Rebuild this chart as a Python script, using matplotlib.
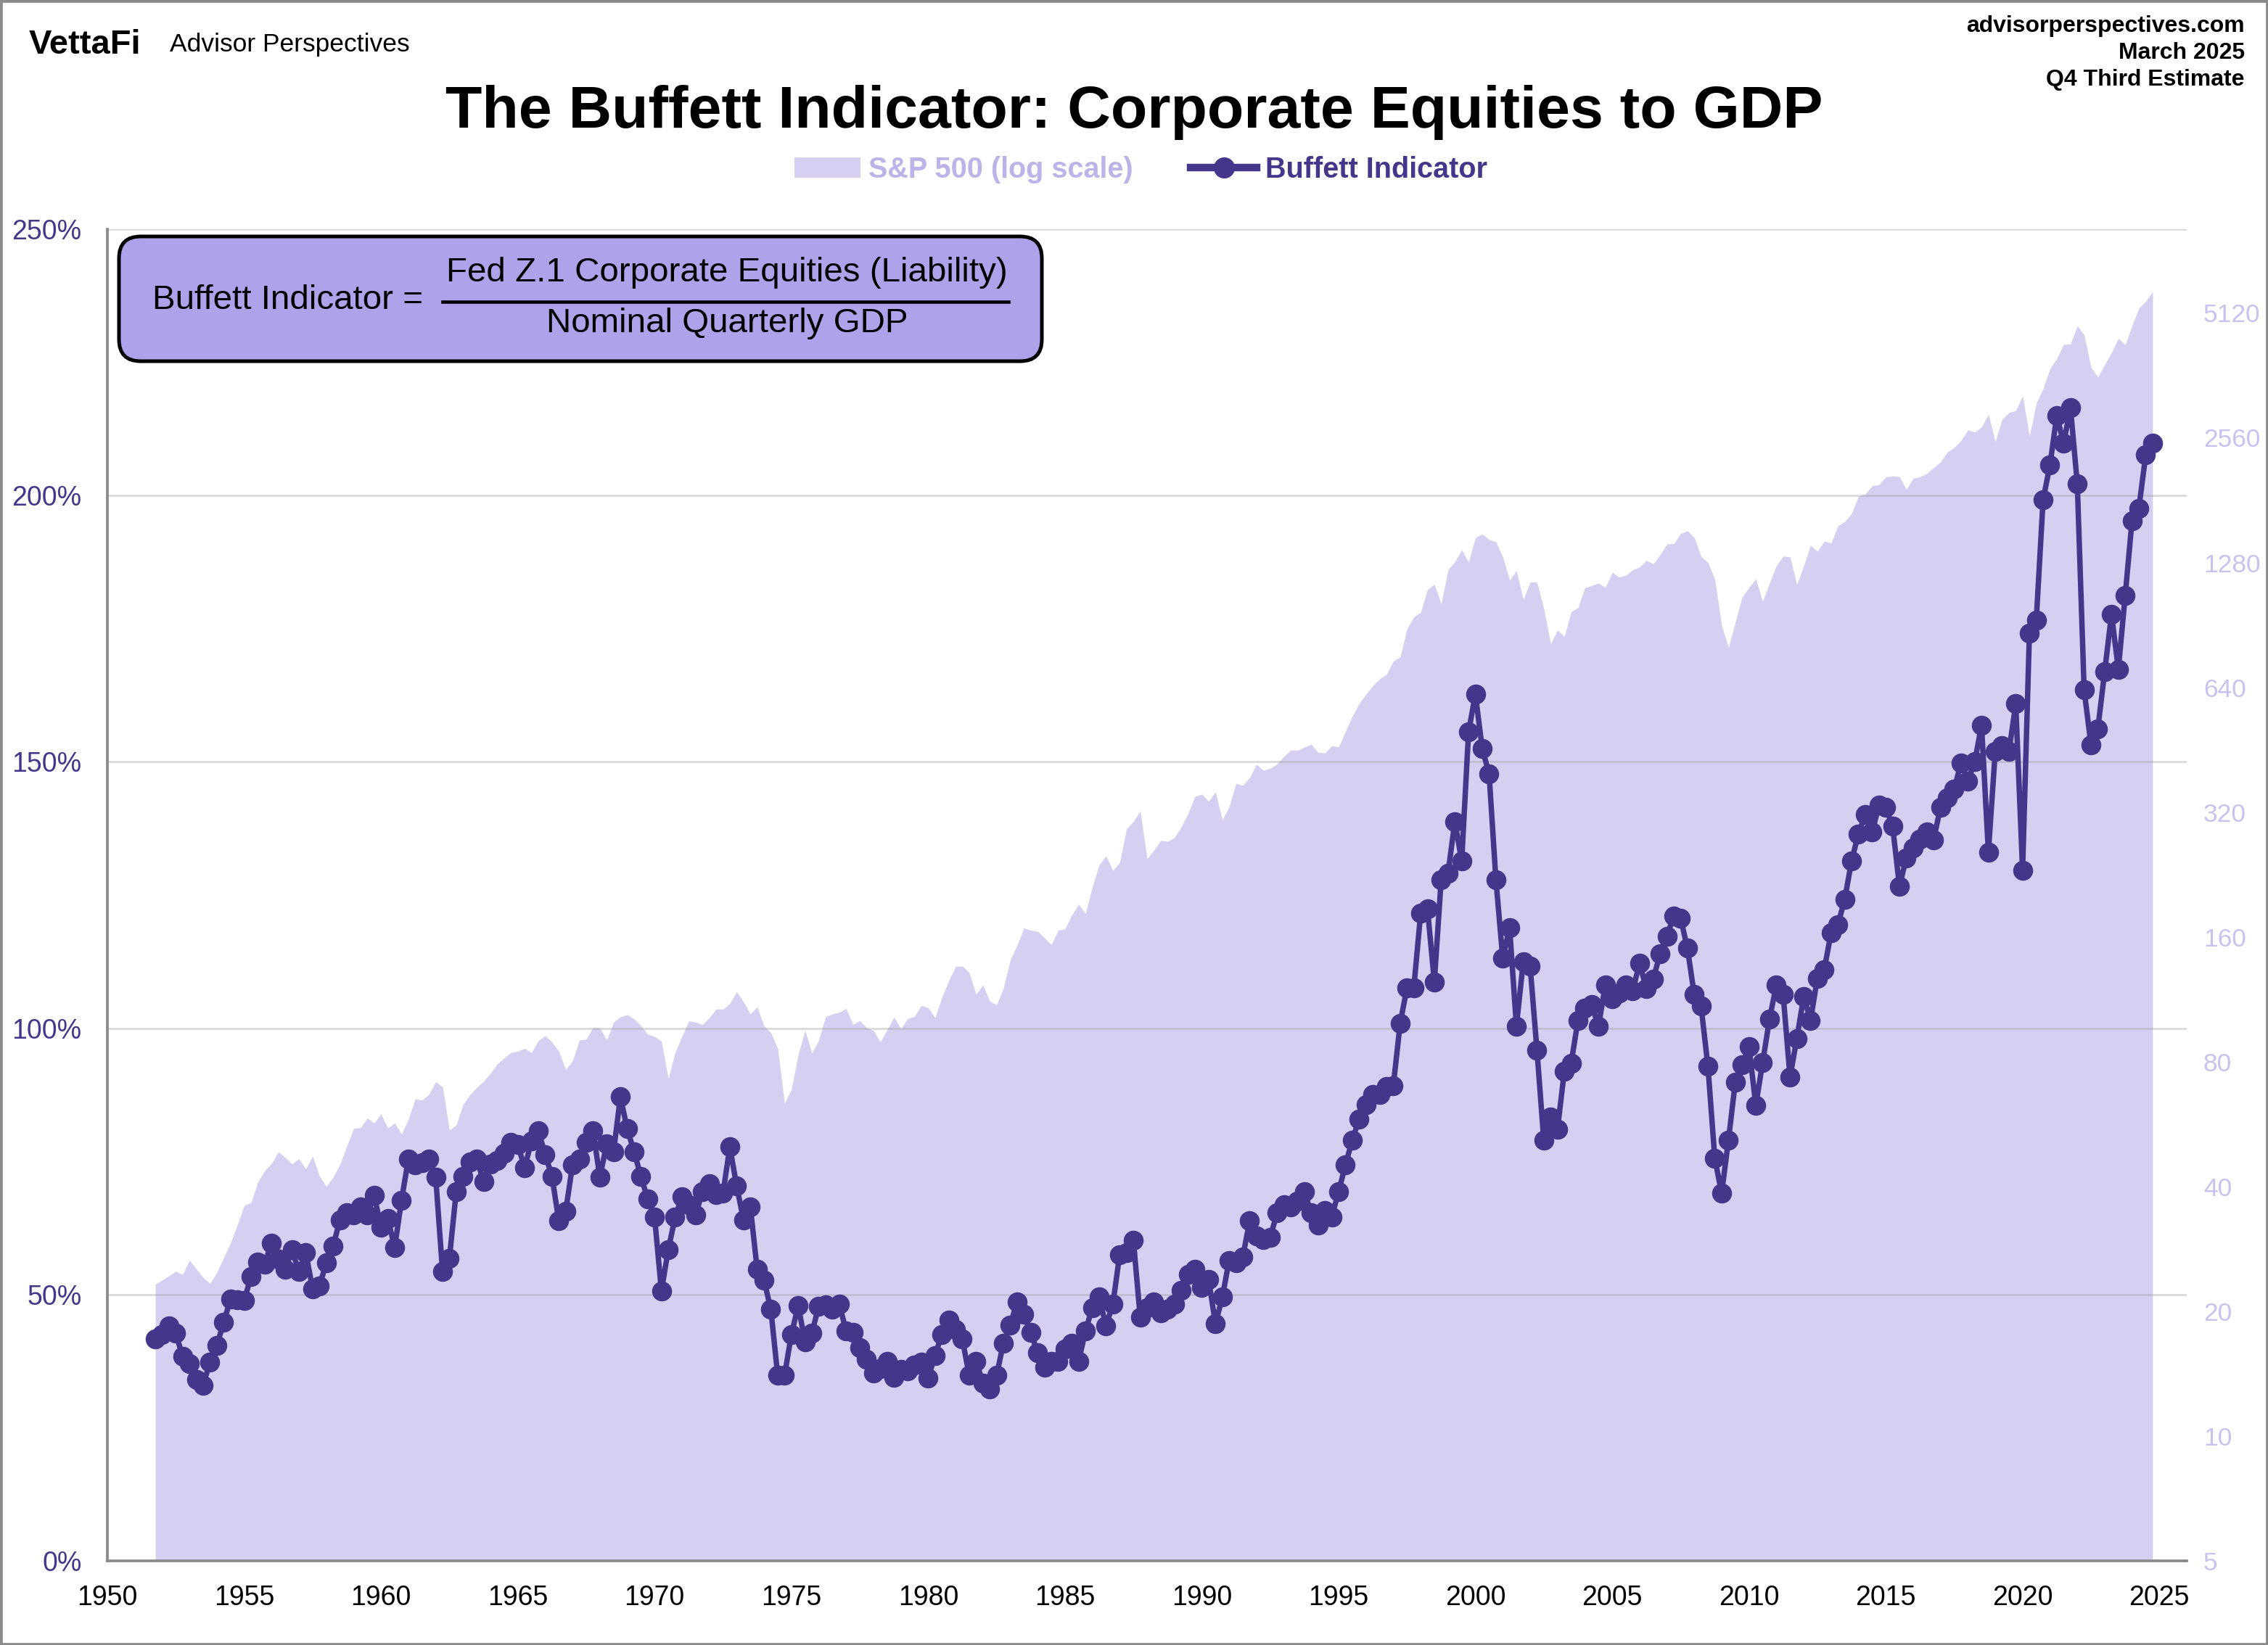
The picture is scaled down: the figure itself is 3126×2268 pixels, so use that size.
import numpy as np
import pandas as pd
import matplotlib
matplotlib.use("Agg")
import matplotlib.pyplot as plt
from matplotlib.patches import FancyBboxPatch, Patch, Rectangle
from matplotlib.lines import Line2D
from matplotlib.ticker import FixedLocator, FixedFormatter

plt.rcParams['font.family'] = ['Liberation Sans', 'DejaVu Sans']

#- Quarterly data, 1951Q4 .. 2024Q4
quarters = pd.period_range('1951Q4', '2024Q4', freq='Q')

# Buffett Indicator (% of GDP)
buffett = [
    41.6, 42.5, 44.1, 42.7, 38.4, 37.0, 34.1, 33.0, 37.3, 40.4,
    44.8, 49.1, 49.0, 48.9, 53.4, 56.1, 55.7, 59.7, 56.6, 54.7,
    58.4, 54.3, 57.9, 51.1, 51.6, 55.9, 59.1, 64.0, 65.4, 64.9,
    66.5, 64.9, 68.6, 62.7, 64.3, 58.8, 67.7, 75.4, 74.3, 74.8,
    75.5, 72.0, 54.3, 56.8, 69.3, 72.2, 74.9, 75.5, 71.2, 74.5,
    75.2, 76.5, 78.6, 78.1, 73.8, 78.8, 80.8, 76.3, 72.2, 63.8,
    65.6, 74.3, 75.4, 78.6, 80.8, 72.0, 78.3, 76.8, 87.1, 81.1,
    76.8, 72.2, 67.9, 64.5, 50.7, 58.4, 64.5, 68.4, 66.8, 65.0,
    69.3, 70.8, 68.8, 69.0, 77.7, 70.4, 64.0, 66.5, 54.7, 52.7,
    47.2, 34.8, 34.8, 42.5, 47.9, 41.1, 42.8, 47.8, 48.0, 47.2,
    48.2, 43.2, 42.9, 40.0, 37.9, 35.2, 36.1, 37.5, 34.5, 35.9,
    35.7, 36.8, 37.3, 34.3, 38.6, 42.5, 45.2, 43.4, 41.6, 34.8,
    37.5, 33.4, 32.3, 34.8, 40.9, 44.3, 48.6, 46.3, 42.9, 39.1,
    36.4, 37.5, 37.5, 39.8, 40.9, 37.5, 43.2, 47.5, 49.5, 44.1,
    48.2, 57.5, 57.9, 60.2, 45.7, 47.5, 48.6, 46.6, 47.2, 48.2,
    50.8, 53.8, 54.8, 51.3, 52.8, 44.5, 49.5, 56.4, 56.0, 57.1,
    63.8, 61.0, 60.3, 60.7, 65.3, 66.9, 66.5, 67.5, 69.3, 65.3,
    63.0, 65.7, 64.6, 69.3, 74.3, 79.0, 82.9, 85.7, 87.6, 87.6,
    89.0, 89.2, 100.9, 107.6, 107.6, 121.6, 122.4, 108.7, 127.9, 129.1,
    138.8, 131.4, 155.6, 162.7, 152.5, 147.8, 127.9, 113.1, 118.9, 100.4,
    112.5, 111.7, 95.9, 79.0, 83.4, 81.0, 91.9, 93.4, 101.5, 103.7,
    104.4, 100.4, 108.1, 105.5, 106.6, 108.1, 107.0, 112.2, 107.4, 109.2,
    114.0, 117.3, 121.0, 120.7, 115.0, 106.3, 104.1, 92.8, 75.6, 69.0,
    79.0, 89.9, 93.1, 96.5, 85.5, 93.6, 101.7, 108.1, 106.3, 90.8,
    98.1, 105.9, 101.5, 109.4, 111.0, 117.9, 119.4, 124.2, 131.4, 136.5,
    140.1, 136.8, 141.9, 141.5, 137.9, 126.6, 132.0, 133.8, 135.5, 136.8,
    135.4, 141.5, 143.2, 144.9, 149.8, 146.4, 150.0, 156.9, 133.0, 151.9,
    153.0, 151.9, 160.9, 129.6, 174.2, 176.6, 199.2, 205.7, 215.0, 209.8,
    216.5, 202.2, 163.5, 153.2, 156.2, 167.0, 177.7, 167.4, 181.2, 195.3,
    197.6, 207.6, 209.8,
]

# S&P 500 close at the start of each quarter (previous quarter end)
sp500 = [
    23.26, 23.77,
    24.37, 24.96, 24.54, 26.57,   25.29, 24.14, 23.35, 24.81,
    26.94, 29.21, 32.31, 35.98,   36.58, 41.03, 43.67, 45.48,
    48.48, 46.97, 45.35, 46.67,   44.11, 47.37, 42.42, 39.99,
    42.10, 45.24, 50.06, 55.21,   55.44, 58.47, 56.88, 59.89,
    55.34, 56.92, 53.52, 58.11,   65.06, 64.64, 66.73, 71.55,
    69.55, 54.75, 56.27, 63.10,   66.57, 69.37, 71.70, 75.02,
    78.98, 81.69, 84.18, 84.75,   86.16, 84.12, 89.96, 92.43,
    89.23, 84.74, 76.56, 80.33,   90.20, 90.64, 96.71, 96.47,
    90.20, 99.58, 102.67, 103.86, 101.51, 97.71, 93.12, 92.06,
    89.63, 72.72, 84.21, 92.15,   100.31, 99.70, 98.34, 102.09,
    107.20, 107.14, 110.55, 118.05, 111.52, 104.26, 108.43, 97.55,
    93.98, 86.00, 63.54, 68.56,   83.36, 95.19, 83.87, 90.19,
    102.77, 104.28, 105.24, 107.46, 98.42, 100.48, 96.53, 95.10,
    89.21, 95.53, 102.54, 96.11,  101.59, 102.91, 109.32, 107.94,
    102.09, 114.24, 125.46, 135.76, 136.00, 131.21, 116.18, 122.55,
    111.96, 109.61, 120.42, 140.64, 152.96, 168.11, 166.07, 164.93,
    159.18, 153.18, 166.10, 167.24, 180.66, 191.85, 182.08, 211.28,
    238.90, 250.84, 231.32, 242.17, 291.70, 304.00, 321.83, 247.08,
    258.89, 273.50, 271.91, 277.72, 294.87, 317.98, 349.15, 353.40,
    339.94, 358.02, 306.05, 330.22, 375.22, 371.16, 387.86, 417.09,
    403.69, 408.14, 417.80, 435.71, 451.67, 450.53, 458.93, 466.45,
    445.77, 444.27, 462.69, 459.27, 500.71, 544.75, 584.41, 615.93,
    645.50, 670.63, 687.31, 740.74, 757.12, 885.14, 947.28, 970.43,
    1101.75, 1133.84, 1017.01, 1229.23, 1286.37, 1372.71, 1282.71, 1469.25,
    1498.58, 1454.60, 1436.51, 1320.28, 1160.33, 1224.42, 1040.94, 1148.08,
    1147.39, 989.82, 815.28, 879.82, 848.18, 974.50, 995.97, 1111.92,
    1126.21, 1140.84, 1114.58, 1211.92, 1180.59, 1191.33, 1228.81, 1248.29,
    1294.83, 1270.20, 1335.85, 1418.30, 1420.86, 1503.35, 1526.75, 1468.36,
    1322.70, 1280.00, 1166.36, 903.25, 797.87, 919.32, 1057.08, 1115.10,
    1169.43, 1030.71, 1141.20, 1257.64, 1325.83, 1320.64, 1131.42, 1257.60,
    1408.47, 1362.16, 1440.67, 1426.19, 1569.19, 1606.28, 1681.55, 1848.36,
    1872.34, 1960.23, 1972.29, 2058.90, 2067.89, 2063.11, 1920.03, 2043.94,
    2059.74, 2098.86, 2168.27, 2238.83, 2362.72, 2423.41, 2519.36, 2673.61,
    2640.87, 2718.37, 2913.98, 2506.85, 2834.40, 2941.76, 2976.74, 3230.78,
    2584.59, 3100.29, 3363.00, 3756.07, 3972.89, 4297.50, 4307.54, 4766.18,
    4530.41, 3785.38, 3585.62, 3839.50, 4109.31, 4450.38, 4288.05, 4769.83,
    5254.35, 5460.48, 5762.48,
]

year_ticks = list(range(1950, 2026, 5))
pct_ticks = [0, 50, 100, 150, 200, 250]
sp_ticks = [5, 10, 20, 40, 80, 160, 320, 640, 1280, 2560, 5120]

line_col = "#45368c"
area_col = "#d7cff2"
sp_txt_col = "#bdb3e8"
right_tick_col = "#c9c1ef"

x = quarters.year + (quarters.quarter - 1) / 4.0

W, H = 3126, 2268
fig = plt.figure(figsize=(W / 300, H / 300), dpi=300)

ax = fig.add_axes([148 / W, 1 - 2152 / H, (3014 - 148) / W, (2152 - 316) / H])
ax2 = ax.twinx()

#- S&P 500 area on the log axis
ax2.set_yscale("log", base=2)
ax2.fill_between(x, sp500, 1, color=area_col, linewidth=0)
ax2.set_ylim(5, 8150)
ax2.yaxis.set_major_locator(FixedLocator(sp_ticks))
ax2.yaxis.set_major_formatter(FixedFormatter([str(t) for t in sp_ticks]))
ax2.yaxis.set_minor_locator(FixedLocator([]))
ax2.tick_params(axis="y", length=0, pad=5.5, labelsize=8.5, labelcolor=right_tick_col)
for s in ax2.spines.values():
    s.set_visible(False)

#- Buffett indicator on the linear axis, drawn above the area
ax.set_zorder(ax2.get_zorder() + 1)
ax.patch.set_visible(False)
ax.plot(x, buffett, color=line_col, lw=1.8, marker="o", markersize=5.6, zorder=5)
ax.set_xlim(1950, 2026)
ax.set_ylim(0, 250)
ax.set_xticks(year_ticks)
ax.set_yticks(pct_ticks)
ax.set_yticklabels([f"{t}%" for t in pct_ticks])
ax.tick_params(axis="x", length=0, pad=8, labelsize=9, labelcolor="black")
ax.tick_params(axis="y", length=0, pad=8.5, labelsize=9, labelcolor=line_col)
ax.grid(True, axis="y", color="#9a9a9a", alpha=0.4, lw=0.6, zorder=1)
ax.spines["top"].set_visible(False)
ax.spines["right"].set_visible(False)
for s in ["left", "bottom"]:
    ax.spines[s].set_color("#8a8a8a")
    ax.spines[s].set_linewidth(0.9)

#- Layout overlay in pixel units
lay = fig.add_axes([0, 0, 1, 1], zorder=10)
lay.set_xlim(0, W)
lay.set_ylim(H, 0)
lay.axis("off")

lay.add_patch(FancyBboxPatch((164, 326), 1272, 172, boxstyle="round,pad=0,rounding_size=30",
                             facecolor="#afa2ea", edgecolor="black", lw=1.2))
lay.text(210, 414, "Buffett Indicator =", fontsize=11.4, va="center", ha="left")
lay.text(1002, 376, "Fed Z.1 Corporate Equities (Liability)", fontsize=11.4, va="center", ha="center")
lay.plot([610, 1390], [416, 416], color="black", lw=1.1)
lay.text(1002, 446, "Nominal Quarterly GDP", fontsize=11.4, va="center", ha="center")

fig.text(0.5, 1 - 176 / H, "The Buffett Indicator: Corporate Equities to GDP",
         ha="center", va="baseline", fontsize=19.8, fontweight="bold")

fig.text(40 / W, 1 - 62 / H, "VettaFi", fontsize=11.3, fontweight="bold", va="center", ha="left")
fig.text(234 / W, 1 - 62 / H, "Advisor Perspectives", fontsize=8.5, va="center", ha="left")
fig.text(3094 / W, 1 - 36 / H, "advisorperspectives.com", fontsize=7.7, fontweight="bold", va="center", ha="right")
fig.text(3094 / W, 1 - 73 / H, "March 2025", fontsize=7.7, fontweight="bold", va="center", ha="right")
fig.text(3094 / W, 1 - 110 / H, "Q4 Third Estimate", fontsize=7.7, fontweight="bold", va="center", ha="right")

handles = [Patch(facecolor=area_col, edgecolor="none"),
           Line2D([], [], color=line_col, lw=2.5, marker="o", markersize=6)]
leg = fig.legend(handles, ["S&P 500 (log scale)", "Buffett Indicator"], loc="center",
                 bbox_to_anchor=(0.503, 1 - 234 / H), ncol=2, frameon=False,
                 prop={"weight": "bold", "size": 9.5}, handlelength=2.3,
                 columnspacing=2.0, handletextpad=0.3)
leg.get_texts()[0].set_color(sp_txt_col)
leg.get_texts()[1].set_color(line_col)

#- Outer frame
fig.patches.append(Rectangle((0, 0), 1, 1, transform=fig.transFigure, fill=False,
                             edgecolor="#8a8a8a", lw=1.6))

fig.savefig("out.png", dpi=300)
